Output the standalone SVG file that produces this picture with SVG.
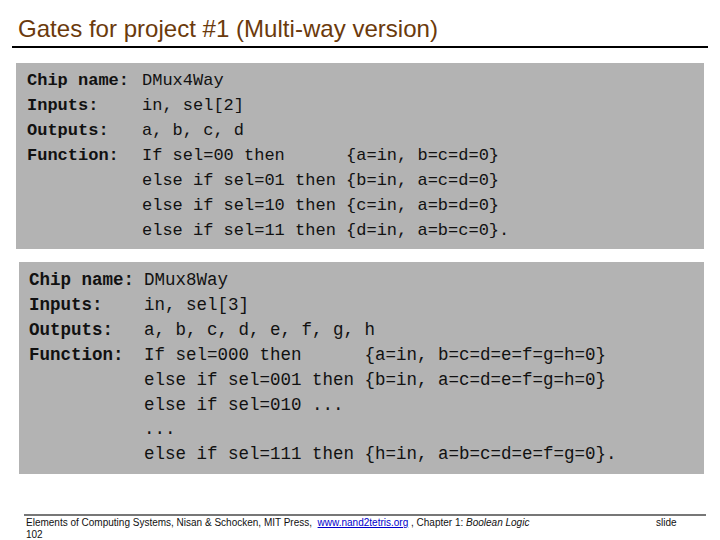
<svg xmlns="http://www.w3.org/2000/svg" width="720" height="540" viewBox="0 0 720 540">
<style>
.m{font-family:"Liberation Mono","DejaVu Sans Mono",monospace;fill:#111}
.b{font-weight:bold}
.s1{font-size:17px}
.s2{font-size:17.5px}
.f{font-family:"Liberation Sans",Arial,sans-serif;font-size:10px;fill:#111}
</style>
<rect width="720" height="540" fill="#fff"/>
<g id="title">
<text x="18" y="37" font-family="Liberation Sans,Arial,sans-serif" font-size="24" fill="#6b3a0c" textLength="420" lengthAdjust="spacingAndGlyphs">Gates for project #1 (Multi-way version)</text>
<line x1="12" y1="47" x2="708" y2="47" stroke="#000" stroke-width="2"/>
</g>
<g id="dmux4way">
<rect x="16" y="63" width="688" height="186" fill="#b3b3b3"/>
<g class="m s1">
<text x="27" y="85" class="b">Chip name:</text><text x="142" y="85">DMux4Way</text>
<text x="27" y="110" class="b">Inputs:</text><text x="142" y="110">in, sel[2]</text>
<text x="27" y="135" class="b">Outputs:</text><text x="142" y="135">a, b, c, d</text>
<text x="27" y="160" class="b">Function:</text><text x="142" y="160" xml:space="preserve">If sel=00 then      {a=in, b=c=d=0}</text>
<text x="142" y="185">else if sel=01 then {b=in, a=c=d=0}</text>
<text x="142" y="210">else if sel=10 then {c=in, a=b=d=0}</text>
<text x="142" y="235">else if sel=11 then {d=in, a=b=c=0}.</text>
</g>
</g>
<g id="dmux8way">
<rect x="19" y="262" width="685" height="212" fill="#b3b3b3"/>
<g class="m s2">
<text x="29" y="285" class="b">Chip name:</text><text x="144" y="285">DMux8Way</text>
<text x="29" y="310" class="b">Inputs:</text><text x="144" y="310">in, sel[3]</text>
<text x="29" y="335" class="b">Outputs:</text><text x="144" y="335">a, b, c, d, e, f, g, h</text>
<text x="29" y="360" class="b">Function:</text><text x="144" y="360" xml:space="preserve">If sel=000 then      {a=in, b=c=d=e=f=g=h=0}</text>
<text x="144" y="385">else if sel=001 then {b=in, a=c=d=e=f=g=h=0}</text>
<text x="144" y="410">else if sel=010 ...</text>
<text x="144" y="434">...</text>
<text x="144" y="459">else if sel=111 then {h=in, a=b=c=d=e=f=g=0}.</text>
</g>
</g>
<g id="footer">
<line x1="24" y1="515" x2="706" y2="515" stroke="#777" stroke-width="2"/>
<text x="26" y="526" class="f" xml:space="preserve">Elements of Computing Systems, Nisan &amp; Schocken, MIT Press,  <tspan fill="#00c" text-decoration="underline">www.nand2tetris.org</tspan> , Chapter 1: <tspan font-style="italic">Boolean Logic</tspan></text>
<text x="656" y="526" class="f">slide</text>
<text x="26" y="538" class="f">102</text>
</g>
</svg>
